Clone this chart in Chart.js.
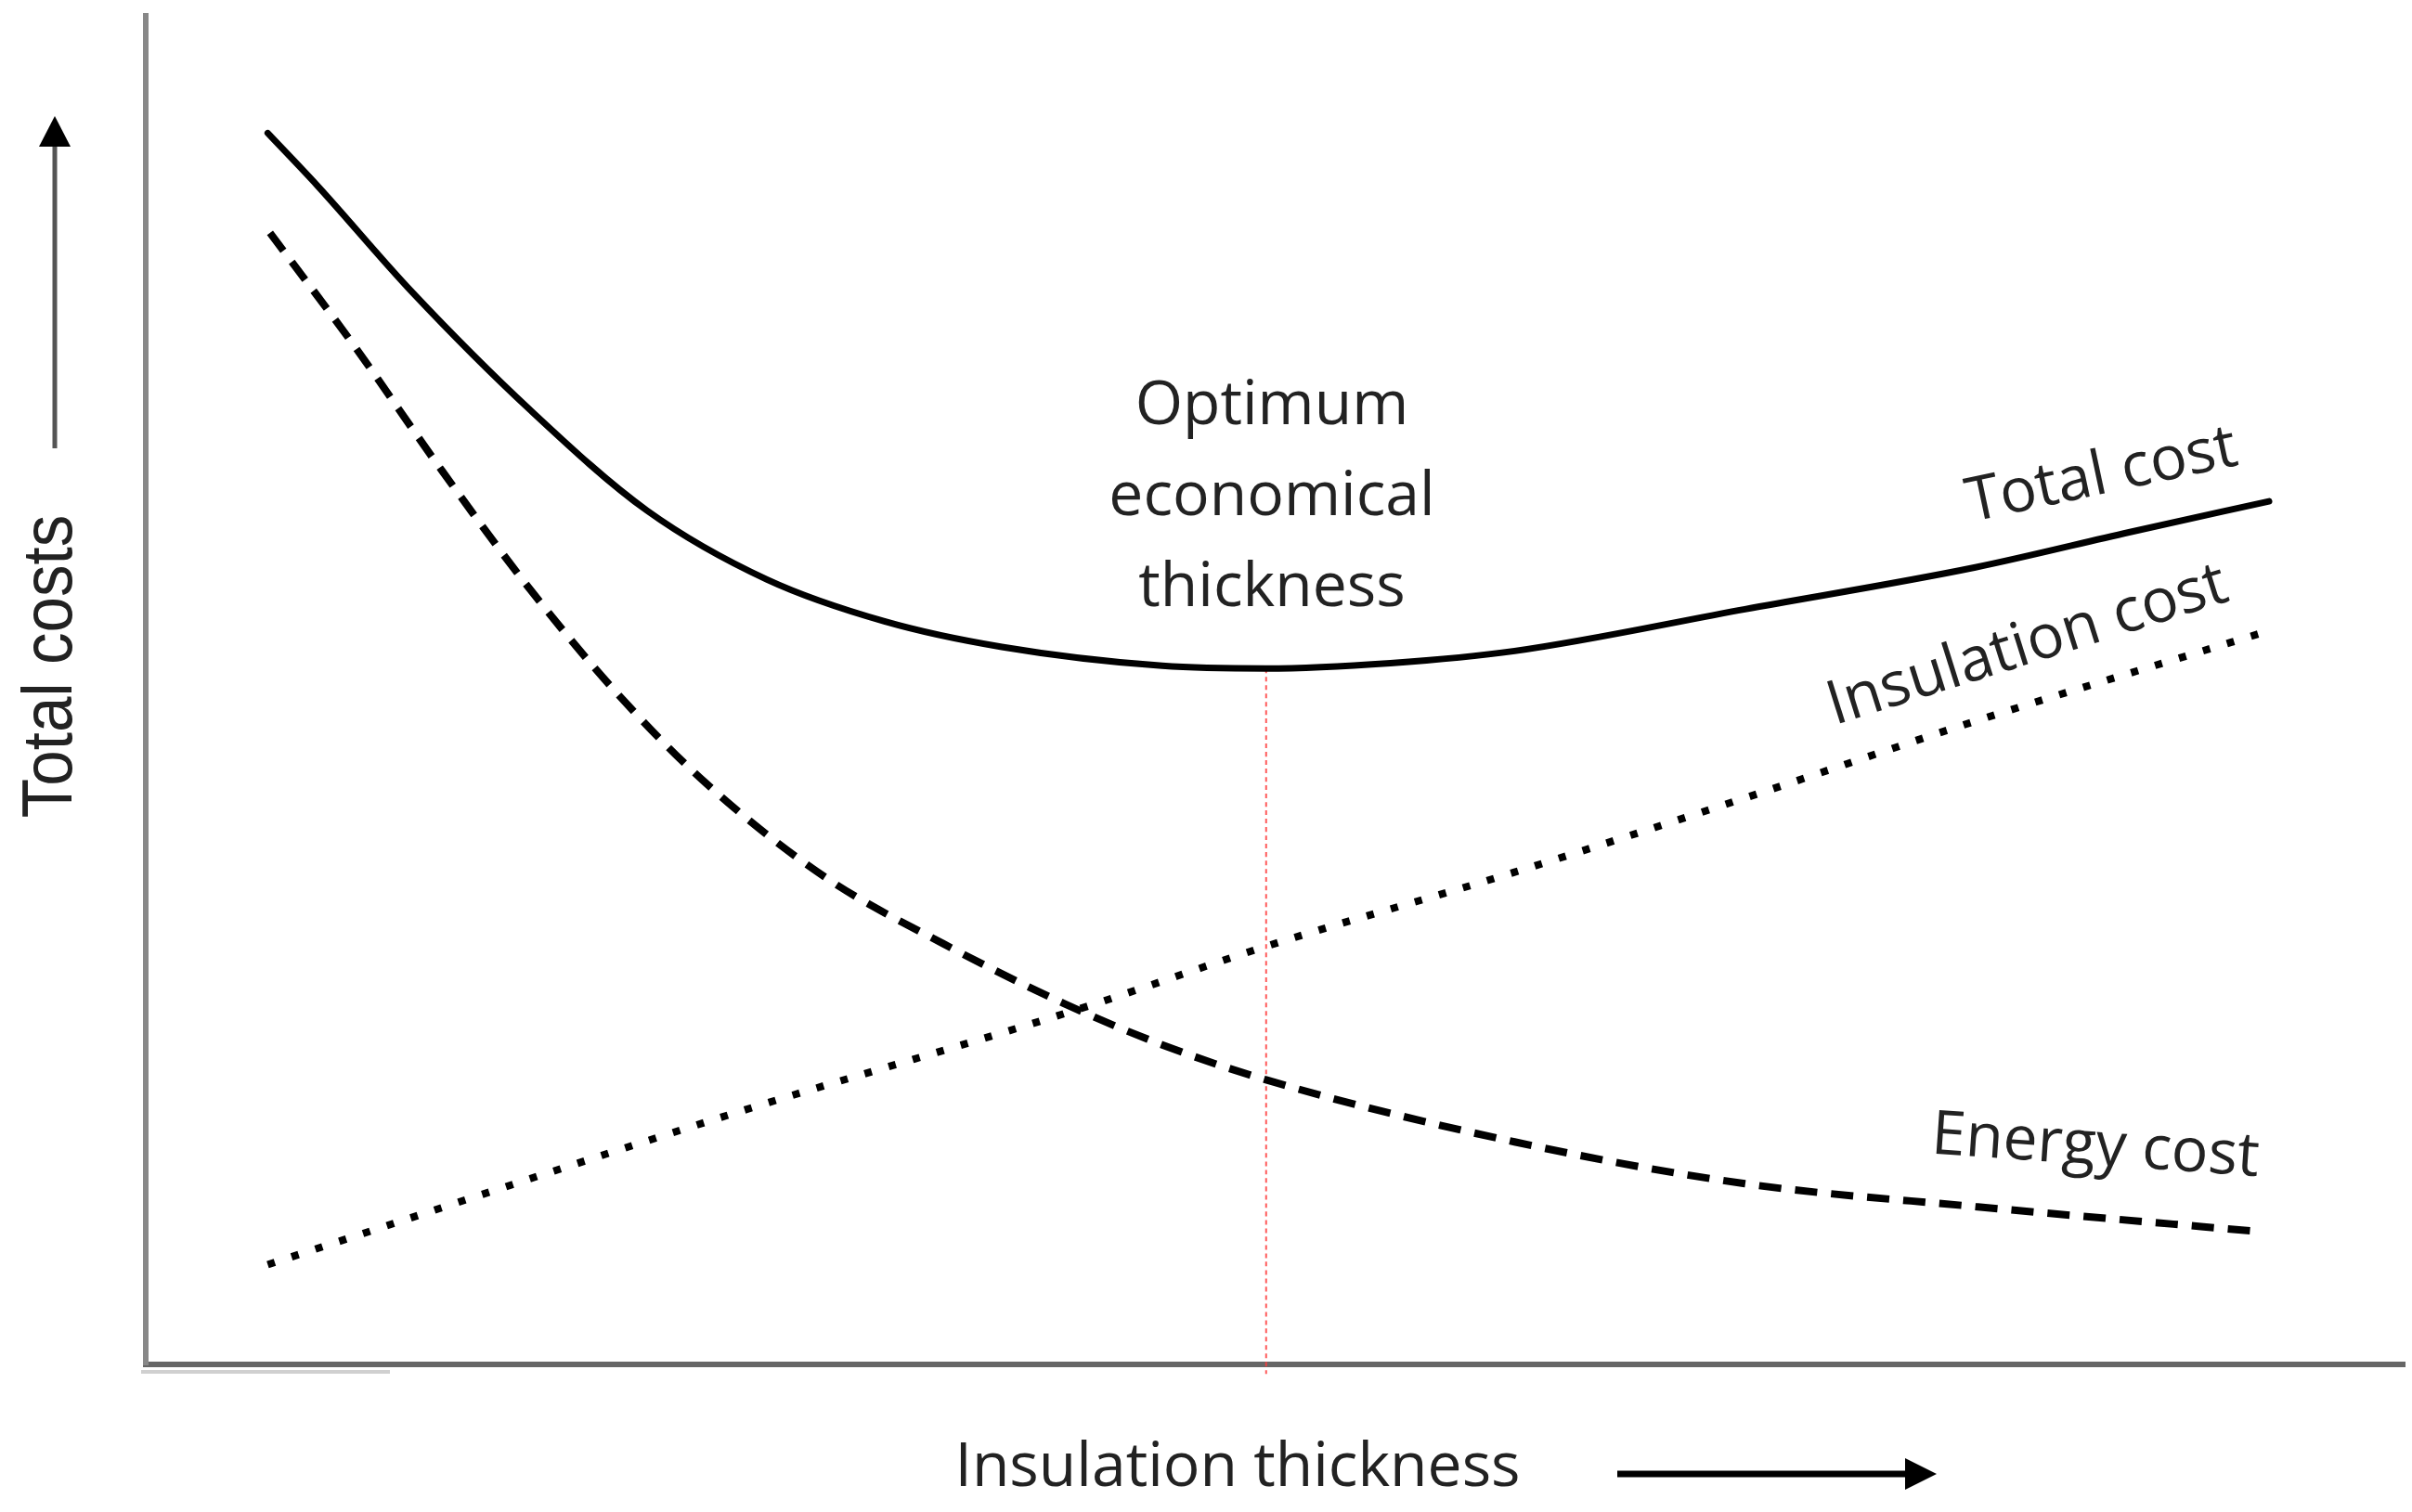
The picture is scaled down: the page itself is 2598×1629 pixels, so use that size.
<!DOCTYPE html>
<html>
<head>
<meta charset="utf-8">
<title>Optimum economical insulation thickness</title>
<script src="https://cdn.jsdelivr.net/npm/chart.js@4.4.1/dist/chart.umd.min.js"></script>
<style>
  html, body { margin: 0; padding: 0; background: #fff; }
  #wrap { width: 2598px; height: 1629px; position: relative; }
</style>
</head>
<body>
<div id="wrap"><canvas id="chart"></canvas></div>
<script>
// values (x = insulation thickness, y = cost, both 0..100)
const totalX = [5.4, 7.6, 11.8, 17.0, 22.2, 27.5, 32.7, 37.9, 45.0, 49.6, 55.1, 60.6, 70.8, 81.0, 87.8, 94.0];
const totalCost = [91.3, 87.4, 79.5, 70.8, 63.3, 58.2, 55.1, 53.2, 51.8, 51.6, 52.0, 52.9, 56.0, 59.1, 61.7, 64.0];

const energyX = [5.5, 9.2, 13.1, 17.0, 20.9, 24.8, 30.1, 35.3, 40.6, 45.0, 49.6, 60.6, 70.8, 81.0, 93.2];
const energyCost = [83.9, 75.6, 66.3, 57.5, 49.7, 43.1, 36.1, 31.2, 26.8, 23.7, 21.1, 16.5, 13.4, 11.7, 9.9];

const insulationX = [5.4, 26.0, 41.4, 49.6, 60.6, 70.8, 81.0, 93.6];
const insulationCost = [7.4, 18.6, 26.4, 31.0, 36.5, 42.0, 47.7, 54.2];

const optimumX = 49.6;
const optimumCost = 51.6;

function toPoints(xs, ys) {
    return xs.map((x, i) => ({ x, y: ys[i] }));
}

const labelFont = '66px "Open Sans"';

const annotations = {
    id: 'annotations',
    afterDraw(chart) {
        const ctx = chart.ctx;
        ctx.save();
        ctx.fillStyle = '#222';
        ctx.font = labelFont;
        ctx.textAlign = 'center';
        ctx.textBaseline = 'alphabetic';

        // optimum block
        ctx.fillText('Optimum', 1370, 457);
        ctx.fillText('economical', 1370, 555);
        ctx.fillText('thickness', 1370, 653);

        // curve labels
        const tilted = [
            ['Total cost', 2264, 513, -12],
            ['Insulation cost', 2184, 696, -17.5],
            ['Energy cost', 2257, 1236, 4],
        ];
        ctx.textBaseline = 'middle';
        for (const [text, x, y, deg] of tilted) {
            ctx.save();
            ctx.translate(x, y);
            ctx.rotate(deg * Math.PI / 180);
            ctx.fillText(text, 0, 0);
            ctx.restore();
        }

        // x axis title + arrow
        ctx.textBaseline = 'alphabetic';
        ctx.fillText('Insulation thickness', 1333, 1601);
        ctx.strokeStyle = '#000';
        ctx.lineWidth = 7;
        ctx.beginPath();
        ctx.moveTo(1742, 1588);
        ctx.lineTo(2056, 1588);
        ctx.stroke();
        ctx.fillStyle = '#000';
        ctx.beginPath();
        ctx.moveTo(2086, 1588);
        ctx.lineTo(2052, 1571);
        ctx.lineTo(2052, 1605);
        ctx.closePath();
        ctx.fill();

        // y axis title + arrow
        ctx.fillStyle = '#222';
        ctx.save();
        ctx.translate(77, 718);
        ctx.rotate(-Math.PI / 2);
        ctx.scale(0.91, 1);
        ctx.font = '76px "Liberation Sans"';
        ctx.fillText('Total costs', 0, 0);
        ctx.restore();
        ctx.strokeStyle = '#555';
        ctx.lineWidth = 5;
        ctx.beginPath();
        ctx.moveTo(59, 483);
        ctx.lineTo(59, 155);
        ctx.stroke();
        ctx.fillStyle = '#000';
        ctx.beginPath();
        ctx.moveTo(59, 125);
        ctx.lineTo(42, 158);
        ctx.lineTo(76, 158);
        ctx.closePath();
        ctx.fill();

        // faint stub under the x axis
        ctx.strokeStyle = '#d0d0d0';
        ctx.lineWidth = 4;
        ctx.beginPath();
        ctx.moveTo(152, 1478);
        ctx.lineTo(420, 1478);
        ctx.stroke();
        ctx.restore();
    }
};

const datasets = [
    {
        label: 'Optimum',
        data: toPoints([optimumX, optimumX], [optimumCost, -0.7]),
        borderColor: 'rgba(255, 60, 60, 0.85)',
        borderWidth: 2,
        borderDash: [5, 4],
        clip: false,
        order: 4,
    },
    {
        label: 'Insulation cost',
        data: toPoints(insulationX, insulationCost),
        borderColor: '#000',
        borderWidth: 8,
        borderDash: [8, 19],
        order: 3,
    },
    {
        label: 'Energy cost',
        data: toPoints(energyX, energyCost),
        borderColor: '#000',
        borderWidth: 8,
        borderDash: [24, 15],
        order: 2,
    },
    {
        label: 'Total cost',
        data: toPoints(totalX, totalCost),
        borderColor: '#000',
        borderWidth: 7,
        borderCapStyle: 'round',
        order: 1,
    },
];

const ctx = document.getElementById('chart');
const chart = new Chart(ctx, {
    type: 'line',
    data: { datasets },
    options: {
        responsive: true,
        maintainAspectRatio: false,
        animation: false,
        layout: { padding: { left: 157, right: 8, top: 17, bottom: 159 } },
        elements: {
            point: { radius: 0, hoverRadius: 0 },
            line: { cubicInterpolationMode: 'monotone', fill: false },
        },
        plugins: {
            legend: { display: false },
            tooltip: { enabled: false },
        },
        scales: {
            x: {
                type: 'linear',
                min: 0,
                max: 100,
                ticks: { display: false },
                grid: { display: false, drawTicks: false },
                border: { display: true, color: '#666', width: 6 },
            },
            y: {
                type: 'linear',
                min: 0,
                max: 100,
                ticks: { display: false },
                grid: { display: false, drawTicks: false },
                border: { display: true, color: '#888', width: 6 },
            },
        },
    },
    plugins: [annotations],
});
</script>
</body>
</html>
